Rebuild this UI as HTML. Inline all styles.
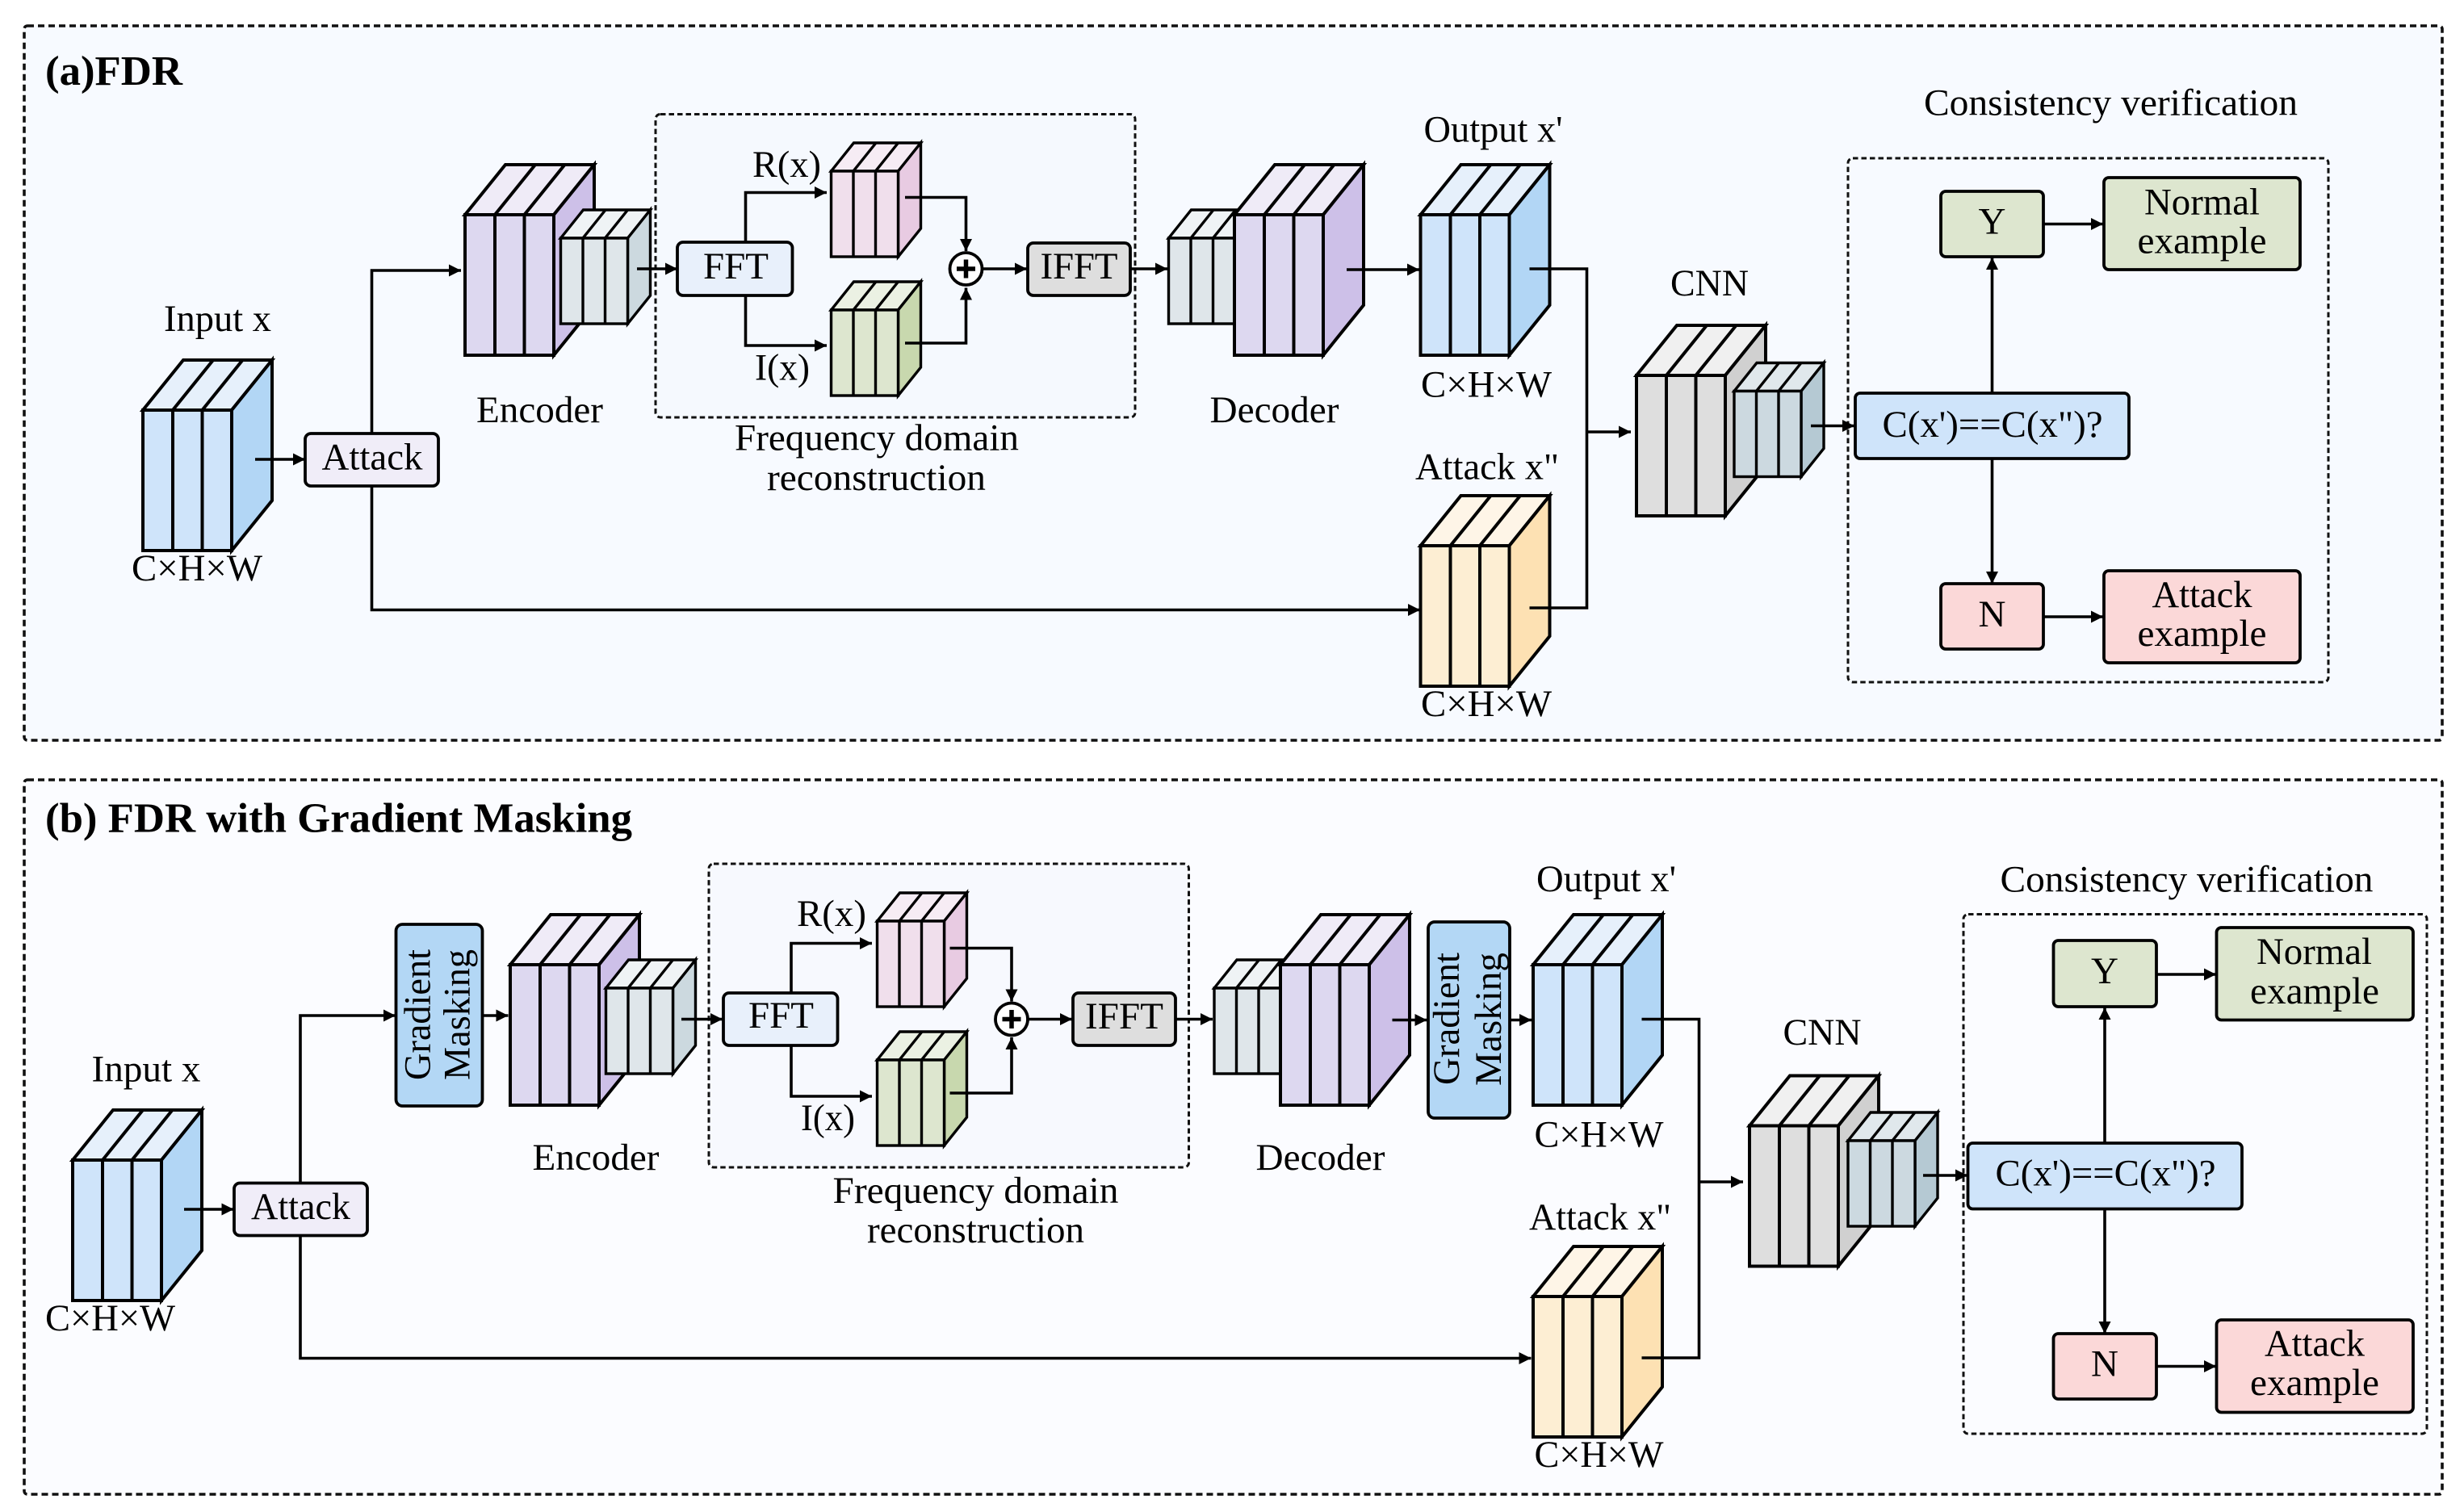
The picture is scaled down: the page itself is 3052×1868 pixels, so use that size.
<!DOCTYPE html>
<html><head><meta charset="utf-8"><style>
html,body{margin:0;padding:0;background:#fff}
svg{display:block}
text{font-family:"Liberation Serif",serif;font-size:47px;fill:#000;stroke:none}
.h{font-weight:bold;font-size:52px}
.f{fill:var(--f)}.t{fill:var(--t)}.s{fill:var(--s)}
.c path,.c polygon,.c rect{stroke:#000;stroke-linejoin:miter}
#B path,#B polygon,#B rect{stroke-width:4}
#S path,#S polygon,#S rect{stroke-width:3.4}
.l{fill:none;stroke:#000;stroke-width:3.6;marker-end:url(#a)}
.n{fill:none;stroke:#000;stroke-width:3.6}
.b{stroke:#000;stroke-width:3.8}
.d1{stroke:#111;stroke-width:3.6;stroke-dasharray:8 5}
.d2{stroke:#111;stroke-width:3;stroke-dasharray:6.5 4;fill:none}
.bl{--f:#cfe4fa;--t:#e6f0fb;--s:#b2d6f5}
.pu{--f:#ddd8f0;--t:#efebf7;--s:#cdc0e8}
.gs{--f:#dfe6ea;--t:#eff3f5;--s:#ccd9df}
.pk{--f:#f0dfec;--t:#f6ecf4;--s:#e8cbe2}
.gr{--f:#dde6cf;--t:#ebf1e3;--s:#c8d8ae}
.or{--f:#fdeed3;--t:#fef5e7;--s:#fde1b3}
.gy{--f:#dedede;--t:#f0f0f0;--s:#d0d0d0}
.dk{--f:#ccd9e0;--t:#e0e8ec;--s:#b5c9d3}
</style></head><body>
<svg xmlns="http://www.w3.org/2000/svg" width="3052" height="1868" viewBox="0 0 3052 1868">
<defs>
<marker id="a" markerUnits="userSpaceOnUse" markerWidth="16" markerHeight="16" refX="15" refY="8" orient="auto"><path d="M0 0.5L15 8L0 15.5Z" fill="#000"/></marker>
<g id="B" class="c">
<polygon class="t" points="0,0 50,-62 160,-62 110,0"/>
<polygon class="s" points="110,0 160,-62 160,112 110,174"/>
<rect class="f" x="0" y="0" width="110" height="174"/>
<path fill="none" d="M37 174V0L87 -62M73.5 174V0L123.5 -62"/>
</g>
<g id="S" class="c">
<polygon class="t" points="0,0 28,-35 111,-35 83,0"/>
<polygon class="s" points="83,0 111,-35 111,71 83,106"/>
<rect class="f" x="0" y="0" width="83" height="106"/>
<path fill="none" d="M27.5 106V0L55.5 -35M55 106V0L83 -35"/>
</g>
</defs>
<rect width="3052" height="1868" fill="#fff"/>

<!-- PANEL A -->
<rect class="d1" x="30" y="32" width="2995" height="885" rx="4" fill="#f7faff"/>
<rect class="d2" x="812" y="141.5" width="594" height="375.5" rx="6" style="fill:#f5f9fe"/>
<rect class="d2" x="2289" y="196" width="595" height="649" rx="6"/>

<text class="h" x="56" y="105" textLength="170" lengthAdjust="spacingAndGlyphs">(a)FDR</text>
<text x="203" y="410" textLength="133" lengthAdjust="spacingAndGlyphs">Input x</text>
<text x="163" y="719" textLength="162" lengthAdjust="spacingAndGlyphs">C×H×W</text>
<text x="590" y="523" textLength="157" lengthAdjust="spacingAndGlyphs">Encoder</text>
<text x="932" y="219" textLength="85" lengthAdjust="spacingAndGlyphs">R(x)</text>
<text x="935" y="470.5" textLength="68" lengthAdjust="spacingAndGlyphs">I(x)</text>
<text x="910" y="557.5" textLength="352" lengthAdjust="spacingAndGlyphs">Frequency domain</text>
<text x="950" y="607" textLength="271" lengthAdjust="spacingAndGlyphs">reconstruction</text>
<text x="1498.5" y="523" textLength="160" lengthAdjust="spacingAndGlyphs">Decoder</text>
<text x="1763.5" y="175.5" textLength="172" lengthAdjust="spacingAndGlyphs">Output x'</text>
<text x="1760" y="491.5" textLength="162" lengthAdjust="spacingAndGlyphs">C×H×W</text>
<text x="1753" y="593.5" textLength="178" lengthAdjust="spacingAndGlyphs">Attack x"</text>
<text x="1760" y="887" textLength="162" lengthAdjust="spacingAndGlyphs">C×H×W</text>
<text x="2069" y="366" textLength="97" lengthAdjust="spacingAndGlyphs">CNN</text>
<text x="2383" y="142.5" textLength="463" lengthAdjust="spacingAndGlyphs">Consistency verification</text>

<use href="#B" x="177" y="508" class="bl"/>
<use href="#B" x="576" y="266" class="pu"/>
<use href="#S" x="694.5" y="295" class="gs"/>
<use href="#S" x="1029.5" y="212" class="pk"/>
<use href="#S" x="1029.5" y="384" class="gr"/>
<use href="#S" x="1447.5" y="295" class="gs"/>
<use href="#B" x="1529" y="266" class="pu"/>
<use href="#B" x="1759.5" y="266" class="bl"/>
<use href="#B" x="1759.5" y="676" class="or"/>
<use href="#B" x="2027" y="465" class="gy"/>
<use href="#S" x="2148" y="484.5" class="dk"/>

<path class="l" d="M316 569H378"/>
<path class="l" d="M460.5 537V335H571"/>
<path class="l" d="M460.5 602V755.5H1759"/>
<path class="l" d="M789 333H839"/>
<path class="l" d="M923.5 301V238.5H1024"/>
<path class="l" d="M923.5 366V428H1024"/>
<path class="l" d="M1121 244.5H1196.5V311"/>
<path class="l" d="M1121 425H1196.5V356.5"/>
<path class="l" d="M1218 333H1272"/>
<path class="l" d="M1400 333H1446"/>
<path class="l" d="M1668 334H1758"/>
<path class="n" d="M1894.5 333H1965.5V753H1894.5"/>
<path class="l" d="M1965.5 535H2020"/>
<path class="l" d="M2243 527.5H2297"/>
<path class="l" d="M2467.5 488V319"/>
<path class="l" d="M2467.5 568V723"/>
<path class="l" d="M2531 277.5H2605"/>
<path class="l" d="M2531 764H2605"/>

<circle class="b" cx="1196.5" cy="333" r="20" fill="#fff"/>
<path d="M1185 333H1208M1196.5 321.5V344.5" stroke="#000" stroke-width="5.5" fill="none"/>

<rect class="b" x="378" y="537" width="165" height="65" rx="7" fill="#f0edf8"/>
<text x="398.5" y="581.5" textLength="125" lengthAdjust="spacingAndGlyphs">Attack</text>
<rect class="b" x="839" y="300" width="142.5" height="66" rx="7" fill="#e8f0fb"/>
<text x="871" y="345" textLength="81" lengthAdjust="spacing">FFT</text>
<rect class="b" x="1273" y="301" width="127" height="65" rx="7" fill="#dedede"/>
<text x="1288.5" y="345" textLength="96" lengthAdjust="spacing">IFFT</text>
<rect class="b" x="2298" y="487" width="339" height="81" rx="6" fill="#cfe4fa"/>
<text x="2331.5" y="541" textLength="273" lengthAdjust="spacingAndGlyphs">C(x')==C(x")?</text>
<rect class="b" x="2404" y="237" width="127" height="81" rx="6" fill="#dde6cf"/>
<text x="2467.5" y="289.5" text-anchor="middle">Y</text>
<rect class="b" x="2606" y="220" width="243" height="114" rx="6" fill="#dde6cf"/>
<text x="2656" y="265.5" textLength="143" lengthAdjust="spacingAndGlyphs">Normal</text>
<text x="2647.5" y="313.5" textLength="160" lengthAdjust="spacingAndGlyphs">example</text>
<rect class="b" x="2404" y="723" width="127" height="81" rx="6" fill="#fbd8d8"/>
<text x="2467.5" y="776" text-anchor="middle">N</text>
<rect class="b" x="2606" y="707" width="243" height="114" rx="6" fill="#fbd8d8"/>
<text x="2665.5" y="752" textLength="124" lengthAdjust="spacingAndGlyphs">Attack</text>
<text x="2647.5" y="800" textLength="160" lengthAdjust="spacingAndGlyphs">example</text>

<!-- PANEL B -->
<rect class="d1" x="30" y="966" width="2995" height="885" rx="4" fill="#fbfcff"/>
<rect class="d2" x="878" y="1070" width="594.5" height="376" rx="6" style="fill:#f7f9fe"/>
<rect class="d2" x="2432" y="1132.5" width="574" height="643.5" rx="6"/>

<text class="h" x="56" y="1030.5" textLength="727" lengthAdjust="spacingAndGlyphs">(b) FDR with Gradient Masking</text>
<text x="113.5" y="1339.5" textLength="135" lengthAdjust="spacingAndGlyphs">Input x</text>
<text x="56" y="1648" textLength="161" lengthAdjust="spacingAndGlyphs">C×H×W</text>
<text x="659.5" y="1449" textLength="157" lengthAdjust="spacingAndGlyphs">Encoder</text>
<text x="987" y="1147" textLength="86" lengthAdjust="spacingAndGlyphs">R(x)</text>
<text x="992" y="1400" textLength="67" lengthAdjust="spacingAndGlyphs">I(x)</text>
<text x="1031.5" y="1490" textLength="354" lengthAdjust="spacingAndGlyphs">Frequency domain</text>
<text x="1074" y="1539" textLength="269" lengthAdjust="spacingAndGlyphs">reconstruction</text>
<text x="1555.5" y="1449" textLength="160" lengthAdjust="spacingAndGlyphs">Decoder</text>
<text x="1903" y="1104" textLength="173" lengthAdjust="spacingAndGlyphs">Output x'</text>
<text x="1900.5" y="1420.5" textLength="160" lengthAdjust="spacingAndGlyphs">C×H×W</text>
<text x="1894" y="1523" textLength="176" lengthAdjust="spacingAndGlyphs">Attack x"</text>
<text x="1900.5" y="1817" textLength="160" lengthAdjust="spacingAndGlyphs">C×H×W</text>
<text x="2208.5" y="1294" textLength="97" lengthAdjust="spacingAndGlyphs">CNN</text>
<text x="2477.5" y="1104.5" textLength="462" lengthAdjust="spacingAndGlyphs">Consistency verification</text>

<use href="#B" x="90" y="1437" class="bl"/>
<use href="#B" x="632" y="1195" class="pu"/>
<use href="#S" x="750.5" y="1224" class="gs"/>
<use href="#S" x="1086.5" y="1141" class="pk"/>
<use href="#S" x="1086.5" y="1313" class="gr"/>
<use href="#S" x="1504" y="1224" class="gs"/>
<use href="#B" x="1586" y="1195" class="pu"/>
<use href="#B" x="1899" y="1195" class="bl"/>
<use href="#B" x="1899" y="1606" class="or"/>
<use href="#B" x="2167" y="1394.5" class="gy"/>
<use href="#S" x="2289" y="1413" class="dk"/>

<path class="l" d="M228 1498H289.5"/>
<path class="l" d="M372 1466V1258H490"/>
<path class="l" d="M372 1530V1682.5H1896.5"/>
<path class="l" d="M597.5 1258H629.5"/>
<path class="l" d="M844 1262.5H895"/>
<path class="l" d="M980 1231V1168.5H1080"/>
<path class="l" d="M980 1295V1358H1080"/>
<path class="l" d="M1176.5 1174.5H1253V1240.5"/>
<path class="l" d="M1176.5 1354H1253V1285"/>
<path class="l" d="M1274 1262.5H1328"/>
<path class="l" d="M1456 1262.5H1502"/>
<path class="l" d="M1724.5 1263.5H1767.5"/>
<path class="l" d="M1870 1263.5H1897"/>
<path class="n" d="M2033.5 1262.5H2104.5V1682H2033.5"/>
<path class="l" d="M2104.5 1464H2159"/>
<path class="l" d="M2382 1456H2437"/>
<path class="l" d="M2607 1417V1248"/>
<path class="l" d="M2607 1497V1652"/>
<path class="l" d="M2671 1207H2745"/>
<path class="l" d="M2671 1692.5H2745"/>

<circle class="b" cx="1253" cy="1262.5" r="20" fill="#fff"/>
<path d="M1241.5 1262.5H1264.5M1253 1251V1274" stroke="#000" stroke-width="5.5" fill="none"/>

<rect class="b" x="490.5" y="1145" width="107" height="225" rx="8" fill="#b3d7f5"/>
<text transform="translate(532.5 1338) rotate(-90)" textLength="162" lengthAdjust="spacingAndGlyphs">Gradient</text>
<text transform="translate(581.5 1338) rotate(-90)" textLength="162" lengthAdjust="spacingAndGlyphs">Masking</text>
<rect class="b" x="1769" y="1142" width="101" height="243" rx="8" fill="#b3d7f5"/>
<text transform="translate(1807 1344) rotate(-90)" textLength="164" lengthAdjust="spacingAndGlyphs">Gradient</text>
<text transform="translate(1859 1345) rotate(-90)" textLength="165" lengthAdjust="spacingAndGlyphs">Masking</text>

<rect class="b" x="290" y="1465.5" width="165" height="65" rx="7" fill="#f0edf8"/>
<text x="311" y="1510" textLength="123" lengthAdjust="spacingAndGlyphs">Attack</text>
<rect class="b" x="896" y="1230" width="141.5" height="65" rx="7" fill="#e8f0fb"/>
<text x="927" y="1273" textLength="81" lengthAdjust="spacing">FFT</text>
<rect class="b" x="1329" y="1230" width="127" height="65" rx="7" fill="#dedede"/>
<text x="1344" y="1274" textLength="97" lengthAdjust="spacing">IFFT</text>
<rect class="b" x="2437.5" y="1416" width="339.5" height="81.5" rx="6" fill="#cfe4fa"/>
<text x="2471.5" y="1468.5" textLength="273" lengthAdjust="spacingAndGlyphs">C(x')==C(x")?</text>
<rect class="b" x="2543.5" y="1165" width="127.5" height="82" rx="6" fill="#dde6cf"/>
<text x="2607" y="1218" text-anchor="middle">Y</text>
<rect class="b" x="2745.5" y="1149" width="243.5" height="114.5" rx="6" fill="#dde6cf"/>
<text x="2795" y="1194" textLength="143" lengthAdjust="spacingAndGlyphs">Normal</text>
<text x="2787" y="1243" textLength="160" lengthAdjust="spacingAndGlyphs">example</text>
<rect class="b" x="2543.5" y="1652" width="127.5" height="81" rx="6" fill="#fbd8d8"/>
<text x="2607" y="1704.5" text-anchor="middle">N</text>
<rect class="b" x="2745.5" y="1635" width="243.5" height="114.5" rx="6" fill="#fbd8d8"/>
<text x="2805" y="1679.5" textLength="124" lengthAdjust="spacingAndGlyphs">Attack</text>
<text x="2787" y="1728" textLength="160" lengthAdjust="spacingAndGlyphs">example</text>
</svg>
</body></html>
